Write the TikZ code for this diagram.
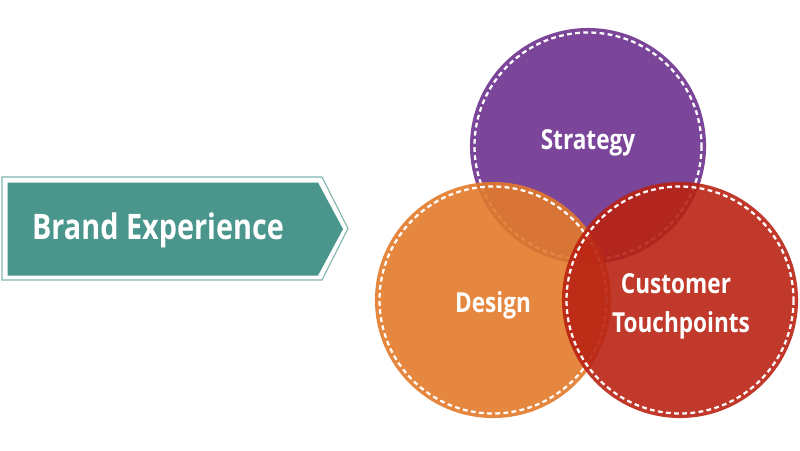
\documentclass[tikz,border=0pt]{standalone}
\usepackage{fontspec}
\usepackage{tikz}
\usepackage{xcolor}
\usetikzlibrary{positioning,calc}
\setmainfont{Open Sans}[FakeStretch=0.82]
\definecolor{brandteal}{HTML}{4A968C}
\definecolor{stratpurple}{HTML}{6D318E}
\definecolor{designorange}{HTML}{E37A2A}
\definecolor{touchred}{HTML}{B92313}

\tikzset{
  venn/.style={circle,inner sep=0pt,minimum size=5.9cm,fill opacity=0.9},
  stitch/.style={white,line width=1.6pt,dash pattern=on 3.4pt off 2.4pt},
  venntext/.style={text=white,anchor=base,inner sep=0pt,
                   font=\fontsize{19.6}{24}\selectfont\bfseries}
}

\begin{document}
\begin{tikzpicture}[x=0.025cm,y=-0.025cm]
  \useasboundingbox (0,0) rectangle (800,450);
  % the arrow
  \draw[brandteal!70,line width=0.8pt,fill=white]
    (2,177) -- (322,177) -- (348,228.5) -- (322,280) -- (2,280) -- cycle;
  \fill[brandteal]
    (7.5,182.5) -- (318,182.5) -- (343,229) -- (318,275.5) -- (7.5,275.5) -- cycle;
  \node[text=white,anchor=base,inner sep=0pt,font=\fontsize{25}{30}\selectfont\bfseries]
    (brand) at (158,239) {Brand Experience};
  % the three circles
  \node[venn,fill=stratpurple] (strat) at (588,146) {};
  \draw[stitch] (strat.center) circle (113.5);
  \node[venn,fill=designorange] (design) at (493,300) {};
  \draw[stitch] (design.center) circle (113.5);
  \node[venn,fill=touchred] (touch) at (680,300) {};
  \draw[stitch] (touch.center) circle (113.5);
  % labels
  \node[venntext] (stratlabel) at (588,149) {Strategy};
  \node[venntext] (designlabel) at (493,312) {Design};
  \node[venntext] (custlabel) at (676,293) {Customer};
  \node[venntext] (touchlabel) at (681,332) {Touchpoints};
\end{tikzpicture}
\end{document}
